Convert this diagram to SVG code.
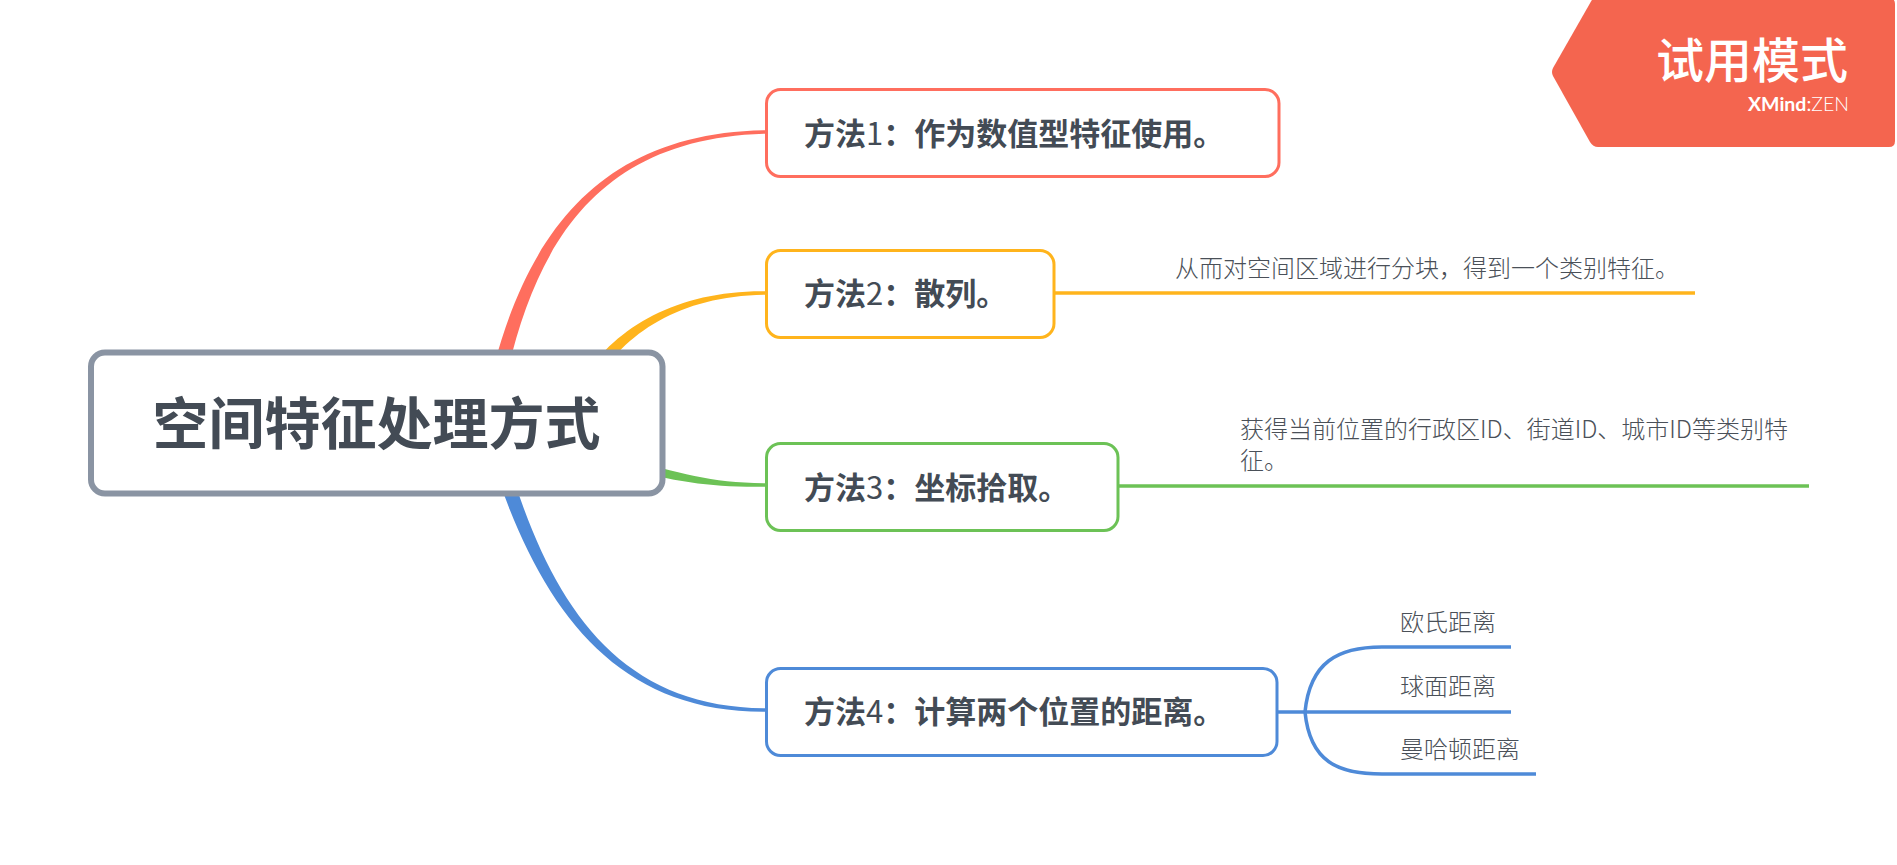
<svg xmlns="http://www.w3.org/2000/svg" width="1897" height="865" viewBox="0 0 1897 865">
<style>
.node{fill:#fff;stroke-width:3}
.title{font-family:"Noto Sans CJK SC","Noto Sans",sans-serif;font-weight:700;font-size:31px;fill:#434b55}
.title tspan.d{font-weight:400}
.lbl{font-family:"Noto Sans CJK SC","Noto Sans",sans-serif;font-weight:300;font-size:24px;fill:#4a5058}
.line{fill:none;stroke-width:3.5;stroke-linecap:butt}
</style>
<rect width="1897" height="865" fill="#fff"/>
<g id="connectors">
<path d="M497.9,421.4 C525.7,252 591.3,138.7 765,133.75 L765,130.25 C588.7,133.3 514.3,248 482.1,418.6 Z" fill="#ff6e5e"/>
<path d="M595.6,383.3 C623.5,333.6 680.7,295.7 765,294.75 L765,291.25 C679.3,290.3 616.5,326.4 584.4,376.7 Z" fill="#ffb41c"/>
<path d="M618.8,467.3 C679.1,482.4 709.8,487.4 765,486.75 L765,483.25 C710.2,482.6 680.9,473.6 621.2,456.7 Z" fill="#6cc256"/>
<path d="M497.7,423.9 C540.6,587.75 606.4,707.3 765,708.25 L765,711.75 C603.6,712.7 529.4,592.25 482.3,428.1 Z" fill="#4e8ad8"/>
<path class="line" d="M1055,293 L1695,293" stroke="#ffb41c"/>
<path class="line" d="M1119,486 L1809,486" stroke="#6cc256"/>
<path class="line" d="M1277,712 L1511,712" stroke="#4e8ad8"/>
<path class="line" d="M1305,712 C1310,662 1338,647 1382,647 L1511,647" stroke="#4e8ad8"/>
<path class="line" d="M1305,712 C1310,762 1338,774 1382,774 L1536,774" stroke="#4e8ad8"/>
</g>
<g id="root">
<rect x="91" y="352.5" width="571.5" height="141" rx="14" fill="#fff" stroke="#8a94a3" stroke-width="6"/>
<text x="376.5" y="444" text-anchor="middle" style="font-family:'Noto Sans CJK SC','Noto Sans',sans-serif;font-weight:700;font-size:56px;fill:#434b55">空间特征处理方式</text>
</g>
<g id="node1">
<rect class="node" x="766.5" y="89.5" width="512.5" height="87" rx="14" stroke="#ff6e5e"/>
<text class="title" x="804" y="145">方法<tspan class="d">1</tspan>：作为数值型特征使用。</text>
</g>
<g id="node2">
<rect class="node" x="766.5" y="250.5" width="287.5" height="87" rx="14" stroke="#ffb41c"/>
<text class="title" x="804" y="305">方法<tspan class="d">2</tspan>：散列。</text>
<text class="lbl" x="1175" y="277">从而对空间区域进行分块，得到一个类别特征。</text>
</g>
<g id="node3">
<rect class="node" x="766.5" y="443.5" width="351.5" height="87" rx="14" stroke="#6cc256"/>
<text class="title" x="804" y="499">方法<tspan class="d">3</tspan>：坐标拾取。</text>
<text class="lbl"><tspan x="1240" y="438">获得当前位置的行政区ID、街道ID、城市ID等类别特</tspan><tspan x="1240" y="469">征。</tspan></text>
</g>
<g id="node4">
<rect class="node" x="766.5" y="668.5" width="510.5" height="87" rx="14" stroke="#4e8ad8"/>
<text class="title" x="804" y="723">方法<tspan class="d">4</tspan>：计算两个位置的距离。</text>
</g>
<g id="sub1"><text class="lbl" x="1400" y="630.5">欧氏距离</text></g>
<g id="sub2"><text class="lbl" x="1400" y="694.5">球面距离</text></g>
<g id="sub3"><text class="lbl" x="1400" y="758">曼哈顿距离</text></g>
<g id="badge">
<path d="M1593,-2 L1889,-2 Q1895,-2 1895,4 L1895,141 Q1895,147 1889,147 L1598,147 Q1593,147 1590,142 L1553,76 Q1551,72 1553,68 Z" fill="#f4654f"/>
<text x="1656" y="78" style="font-family:'Noto Sans CJK SC','Noto Sans',sans-serif;font-weight:500;font-size:48px;fill:#fff">试用模式</text>
<text x="1849" y="111" text-anchor="end" style="font-family:Lato,'Open Sans',sans-serif;font-size:19.5px;fill:#fff"><tspan font-weight="700">XMind</tspan><tspan font-weight="400">:</tspan><tspan font-weight="300">ZEN</tspan></text>
</g>
</svg>
